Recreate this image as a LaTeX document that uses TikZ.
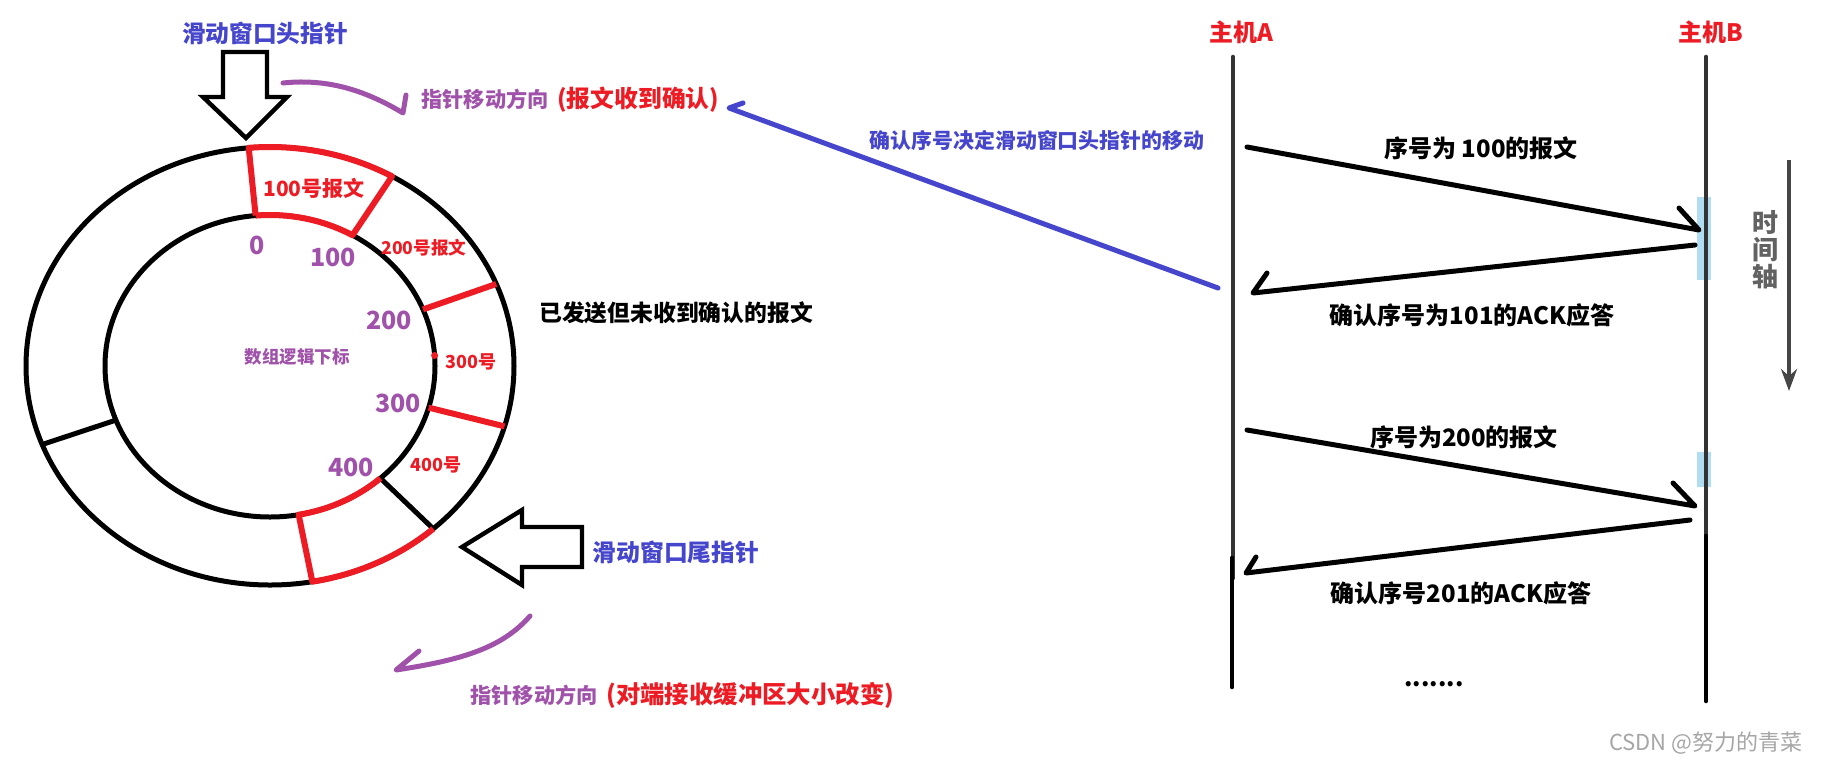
\documentclass[tikz,border=0pt]{standalone}
\usepackage{fontspec}
\setmainfont{Noto Sans CJK SC}
\usetikzlibrary{arrows.meta}
\definecolor{winblue}{RGB}{70,70,205}
\definecolor{dirpurple}{RGB}{160,82,170}
\definecolor{pktred}{RGB}{237,28,36}
\definecolor{axisgray}{RGB}{70,70,70}
\definecolor{markblue}{RGB}{150,210,238}
\begin{document}
\begin{tikzpicture}[x=0.5pt, y=0.5pt,
        ring/.style={line width=2.5pt},
        seg/.style={pktred, line width=3pt, line join=round},
        hand/.style={line width=2.5pt, line cap=round, line join=round},
        blockarrow/.style={draw, fill=white, line width=2.2pt, line join=miter},
        lbl/.style={inner sep=0pt, font=\bfseries\fontsize{#1pt}{#1pt}\selectfont},
        host/.style={line width=2.3pt, line cap=round}]
    \fill[white] (0,0) rectangle (1821,-761);
    \useasboundingbox (0,0) rectangle (1821,-761);
    \begin{scope}[shift={(270,-366)}]
        \draw[ring] (0,0) ellipse [x radius=244, y radius=219];
        \draw[ring] (0,0) ellipse [x radius=165, y radius=151];
        \draw[ring] (-48:165 and 151) -- (-48:244 and 219);
        \draw[ring] (201:165 and 151) -- (201:244 and 219);
        \draw[seg] (95:165 and 151) -- (95:244 and 219)
            arc[start angle=95, end angle=60, x radius=244, y radius=219]
            -- (60:165 and 151)
            arc[start angle=60, end angle=95, x radius=165, y radius=151];
        \draw[seg] (22:165 and 151) -- (22:244 and 219);
        \draw[seg] (-16:165 and 151) -- (-16:244 and 219);
        \fill[pktred] (4:165 and 151) circle[radius=3.5];
        \draw[seg] (-48:165 and 151)
            arc[start angle=-48, end angle=-80, x radius=165, y radius=151]
            -- (-80:244 and 219)
            arc[start angle=-80, end angle=-48, x radius=244, y radius=219];
    \end{scope}
    \node[lbl=11.85, text=winblue] (headptr) at (265,-33) {滑动窗口头指针};
    \draw[blockarrow] (223,-52) -- (267,-52) -- (267,-97) -- (287,-97) -- (246,-138) -- (203,-97) -- (223,-97) -- cycle;
    \draw[hand, dirpurple] (283,-83) .. controls (330,-78) and (368,-92) .. (403,-113) -- (406,-95);
    \node[lbl=10.6, text=dirpurple, anchor=west] (headdir) at (421,-99) {指针移动方向};
    \node[lbl=11.9, text=pktred, anchor=base west] (headwhy) at ([xshift=4]headdir.base east) {(报文收到确认)};
    \node[lbl=10.5, text=pktred] (seg1) at (314,-188) {100号报文};
    \node[lbl=8.8, text=pktred] (seg2) at (424,-248) {200号报文};
    \node[lbl=9, text=pktred] (seg3) at (471,-362) {300号};
    \node[lbl=9, text=pktred] (seg4) at (436,-465) {400号};
    \node[lbl=12.5, text=dirpurple] (idx0) at (257,-245) {0};
    \node[lbl=12.5, text=dirpurple] (idx1) at (333,-257) {100};
    \node[lbl=12.5, text=dirpurple] (idx2) at (389,-320) {200};
    \node[lbl=12.5, text=dirpurple] (idx3) at (398,-403) {300};
    \node[lbl=12.5, text=dirpurple] (idx4) at (351,-467) {400};
    \node[lbl=8.75, text=dirpurple] (idxname) at (297,-357) {数组逻辑下标};
    \node[lbl=11.4] (unacked) at (676,-313) {已发送但未收到确认的报文};
    \draw[blockarrow] (582,-527) -- (522,-527) -- (522,-510) -- (462,-547) -- (522,-585) -- (522,-567) -- (582,-567) -- cycle;
    \node[lbl=11.9, text=winblue] (tailptr) at (676,-552) {滑动窗口尾指针};
    \draw[hand, dirpurple] (530,-616) .. controls (502,-648) and (462,-660) .. (396,-670) -- (419,-651);
    \node[lbl=10.6, text=dirpurple, anchor=west] (taildir) at (470,-695) {指针移动方向};
    \node[lbl=12.2, text=pktred, anchor=base west] (tailwhy) at ([xshift=4]taildir.base east) {(对端接收缓冲区大小改变)};
    \node[lbl=12, text=pktred] (hostA) at (1241,-32) {主机A};
    \node[lbl=12, text=pktred] (hostB) at (1711,-32) {主机B};
    \fill[markblue, opacity=0.75] (1697,-197) rectangle (1711,-280);
    \fill[markblue, opacity=0.75] (1697,-452) rectangle (1711,-487);
    \draw[host, black!80] (1233,-57) -- (1233,-578);
    \draw[host] (1232,-558) -- (1232,-687);
    \draw[host, black!80] (1706,-57) -- (1706,-578);
    \draw[host] (1706,-536) -- (1706,-701);
    \coordinate (m1s) at (1247,-147);
    \coordinate (m1e) at (1699,-230);
    \coordinate (a1s) at (1695,-245);
    \coordinate (a1e) at (1253,-293);
    \coordinate (m2s) at (1247,-430);
    \coordinate (m2e) at (1695,-506);
    \coordinate (a2s) at (1690,-520);
    \coordinate (a2e) at (1246,-573);
    \draw[hand] (m1s) -- (m1e) -- ++(-20,22);
    \draw[hand] (a1s) -- (a1e) -- ++(14,20);
    \draw[hand] (m2s) -- (m2e) -- ++(-22,23);
    \draw[hand] (a2s) -- (a2e) -- ++(10,16);
    \node[lbl=12] (msg1) at (1481,-148) {序号为 100的报文};
    \node[lbl=12] (ack1) at (1472,-315) {确认序号为101的ACK应答};
    \node[lbl=12] (msg2) at (1464,-437) {序号为200的报文};
    \node[lbl=12] (ack2) at (1461,-593) {确认序号201的ACK应答};
    \node[lbl=12] (more) at (1434,-684) {.......};
    \coordinate (ackfrom) at (1218,-288);
    \coordinate (acktip) at (729,-108);
    \draw[hand, winblue] (ackfrom) -- (acktip) -- ++(14,5);
    \node[lbl=10.45, text=winblue] (acknote) at (1037,-140) {确认序号决定滑动窗口头指针的移动};
    \draw[line width=1.8pt, axisgray, -{Stealth[length=11pt, width=8pt]}] (1789,-160) -- (1789,-391);
    \node[inner sep=0pt, align=center, text=axisgray!85, font=\bfseries\fontsize{13pt}{13.5pt}\selectfont] (timeaxis) at (1765,-250) {时\\间\\轴};
    \node[inner sep=0pt, anchor=east, text=black!35, font=\fontsize{11pt}{11pt}\selectfont] (mark) at (1803,-743) {CSDN @努力的青菜};
\end{tikzpicture}
\end{document}
